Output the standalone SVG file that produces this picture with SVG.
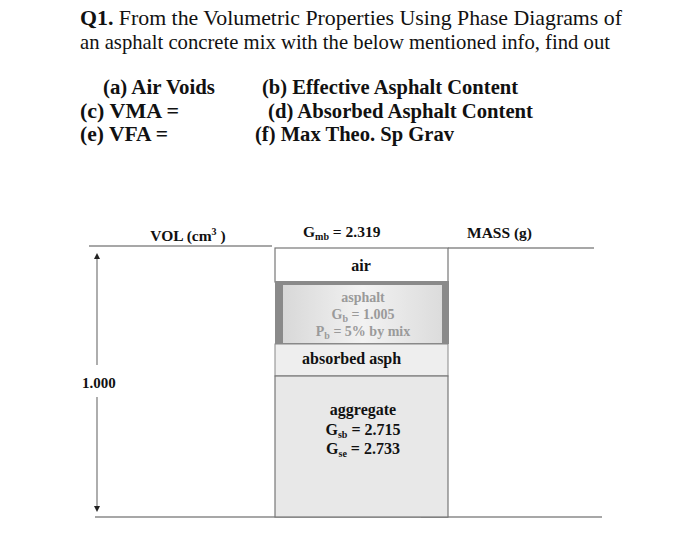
<svg xmlns="http://www.w3.org/2000/svg" width="700" height="544" viewBox="0 0 700 544">
<style>
.t{font-family:"Liberation Serif","Times New Roman",serif;fill:#111}
.b{font-weight:bold}
.q{font-size:21px}
.h{font-size:20.5px;font-weight:bold}
.d{font-size:15.5px;font-weight:bold}
.g{font-size:14px;font-weight:bold;fill:#9a9a9a}
.a{font-size:16px;font-weight:bold}
.ln{stroke:#8a8a8a;stroke-width:1.5;fill:none}
</style>
<defs>
<marker id="ah" markerWidth="6" markerHeight="6" refX="3" refY="3" orient="auto" markerUnits="userSpaceOnUse">
<path d="M0,0 L6,3 L0,6 z" fill="#222"/>
</marker>
<linearGradient id="ag" x1="0" y1="0" x2="1" y2="0">
<stop offset="0" stop-color="#d8d8d8"/>
<stop offset="0.5" stop-color="#f2f2f2"/>
<stop offset="1" stop-color="#dcdcdc"/>
</linearGradient>
</defs>
<rect width="700" height="544" fill="#fff"/>

<g id="title">
<text class="t q" x="80" y="25" textLength="542" lengthAdjust="spacingAndGlyphs"><tspan class="b">Q1.</tspan> From the Volumetric Properties Using Phase Diagrams of</text>
<text class="t q" x="80" y="49" textLength="530" lengthAdjust="spacingAndGlyphs">an asphalt concrete mix with the below mentioned info, find out</text>
</g>
<g id="questions">
<text class="t h" x="103" y="94" textLength="112" lengthAdjust="spacingAndGlyphs">(a) Air Voids</text>
<text class="t h" x="262" y="94" textLength="256" lengthAdjust="spacingAndGlyphs">(b) Effective Asphalt Content</text>
<text class="t h" x="80" y="118" textLength="99" lengthAdjust="spacingAndGlyphs">(c) VMA =</text>
<text class="t h" x="268" y="118" textLength="265" lengthAdjust="spacingAndGlyphs">(d) Absorbed Asphalt Content</text>
<text class="t h" x="80" y="141" textLength="88" lengthAdjust="spacingAndGlyphs">(e) VFA =</text>
<text class="t h" x="255" y="141" textLength="199" lengthAdjust="spacingAndGlyphs">(f) Max Theo. Sp Grav</text>
</g>

<g id="headers">
<text class="t d" x="188" y="241" text-anchor="middle">VOL (cm<tspan font-size="10" dy="-6">3</tspan><tspan dy="6"> )</tspan></text>
<text class="t d" x="303" y="237">G<tspan font-size="10" dy="3">mb</tspan><tspan dy="-3"> = 2.319</tspan></text>
<text class="t d" x="467" y="238">MASS (g)</text>
</g>

<g id="connectors">
<line class="ln" x1="89" y1="246" x2="272" y2="246"/>
<line class="ln" x1="448" y1="248" x2="594" y2="248"/>
<line class="ln" x1="95" y1="517" x2="602" y2="517"/>
<line x1="421" y1="516" x2="448" y2="516" stroke="#555" stroke-width="2.5"/>
<line x1="97" y1="365" x2="97" y2="256" stroke="#777" stroke-width="1.2" marker-end="url(#ah)"/>
<line x1="97" y1="397" x2="97" y2="509" stroke="#777" stroke-width="1.2" marker-end="url(#ah)"/>
</g>
<g id="vol-label">
<text class="t" x="82" y="388" font-size="15" font-weight="bold">1.000</text>
</g>

<g id="air">
<rect x="275" y="248" width="173" height="34" fill="#fff" stroke="#777" stroke-width="1.2"/>
<text class="t a" x="361" y="271" text-anchor="middle">air</text>
</g>
<g id="asphalt">
<rect x="275" y="281" width="174" height="63" fill="#8a8a8a"/>
<rect x="283" y="285" width="159" height="58" fill="url(#ag)"/>
<text class="t g" x="363" y="302" text-anchor="middle">asphalt</text>
<text class="t g" x="363" y="319" text-anchor="middle">G<tspan font-size="10" dy="3">b</tspan><tspan dy="-3"> = 1.005</tspan></text>
<text class="t g" x="363" y="336" text-anchor="middle">P<tspan font-size="10" dy="3">b</tspan><tspan dy="-3"> = 5% by mix</tspan></text>
</g>
<g id="absorbed">
<rect x="275" y="344" width="173" height="32" fill="#eeeeee" stroke="#888" stroke-width="1"/>
<text class="t a" x="302" y="364">absorbed asph</text>
</g>
<g id="aggregate">
<rect x="275" y="376" width="173" height="141" fill="#e8e8e8" stroke="#777" stroke-width="1.2"/>
<text class="t a" x="363" y="415" text-anchor="middle">aggregate</text>
<text class="t a" x="363" y="435" text-anchor="middle">G<tspan font-size="10" dy="3">sb</tspan><tspan dy="-3"> = 2.715</tspan></text>
<text class="t a" x="363" y="454" text-anchor="middle">G<tspan font-size="10" dy="3">se</tspan><tspan dy="-3"> = 2.733</tspan></text>
</g>
</svg>
